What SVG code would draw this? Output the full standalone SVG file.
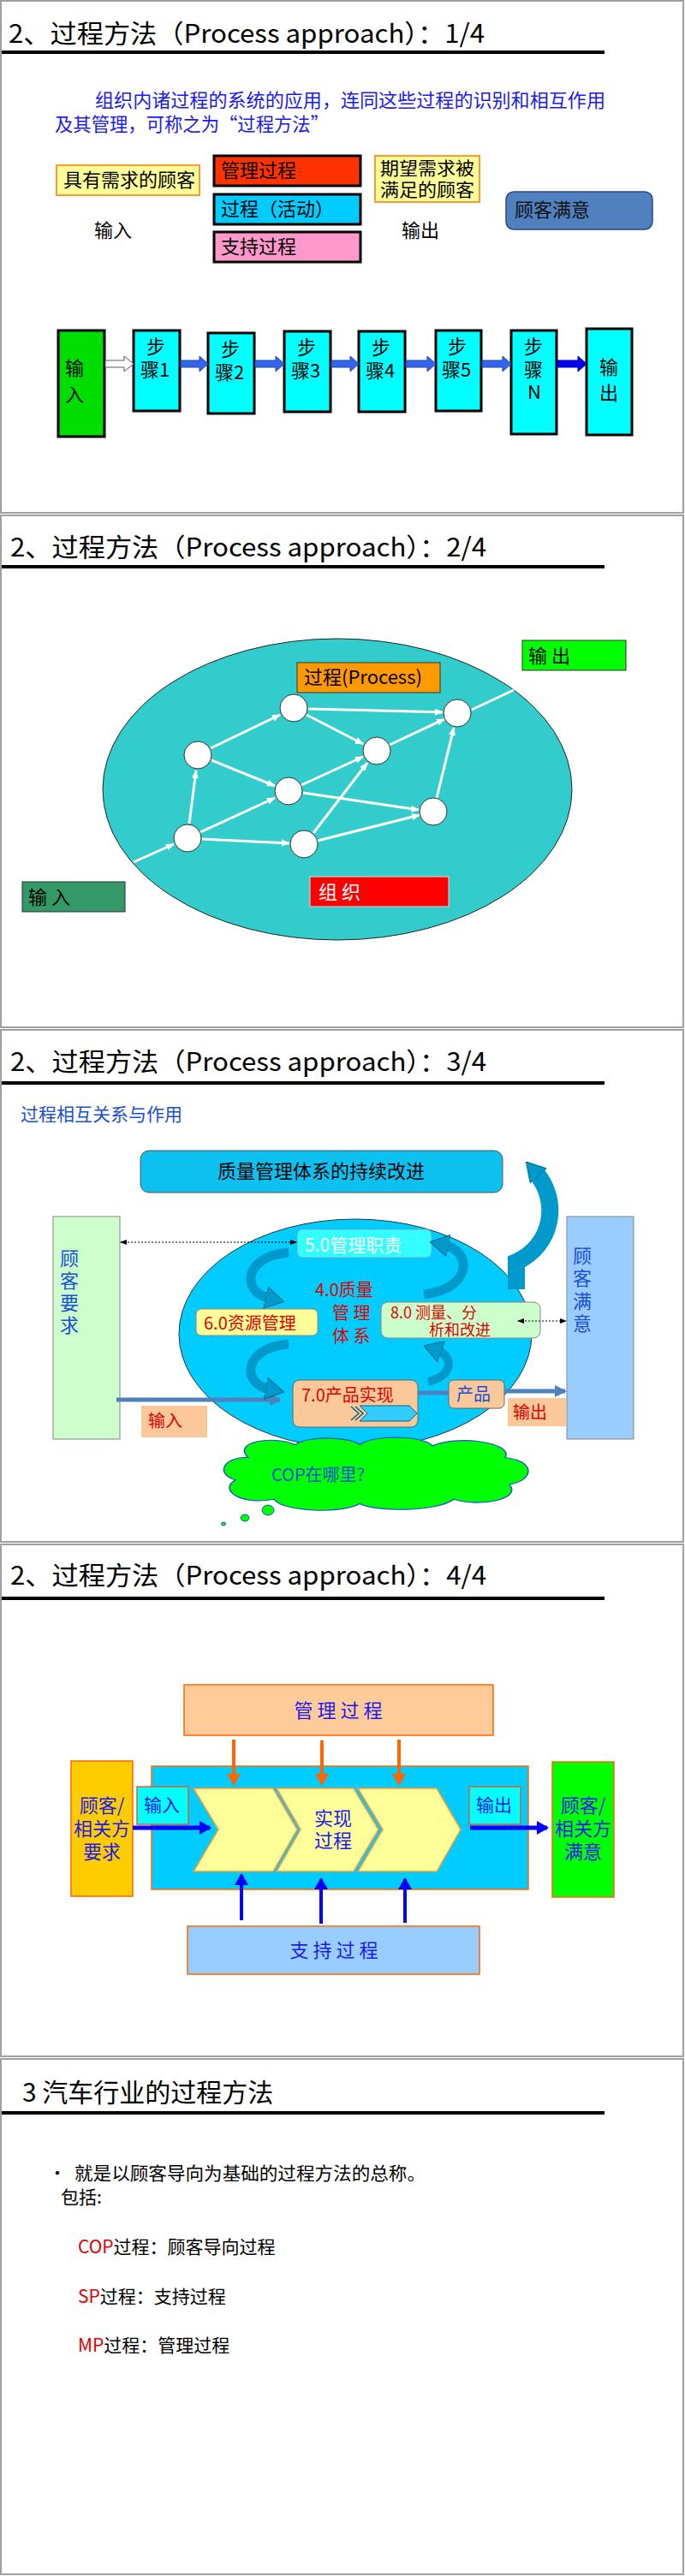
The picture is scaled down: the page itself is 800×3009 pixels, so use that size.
<svg xmlns="http://www.w3.org/2000/svg" width="800" height="3009" viewBox="0 0 800 3009">
<style>
text{font-family:"Noto Sans CJK SC","Noto Sans",sans-serif;}
.frame{fill:#fff;stroke:#a0a0a0;stroke-width:2}
.title{font-size:30px;fill:#000}
.ul{stroke:#000;stroke-width:4}
.bk{stroke:#000;stroke-width:3}
.step{fill:#00ffff;stroke:#000;stroke-width:3}
.t22{font-size:22px}
.wl{stroke:#fff;stroke-width:3;fill:none;marker-end:url(#wa)}
.node{fill:#fff;stroke:#333;stroke-width:1}
.tc{stroke:#0099cc;fill:none}
.red{fill:#e00000}
</style>
<defs>
<marker id="wa" markerWidth="10" markerHeight="10" refX="9" refY="5" orient="auto" markerUnits="userSpaceOnUse"><path d="M0,1 L10,5 L0,9 Z" fill="#fff"/></marker>
<marker id="ta" markerWidth="22" markerHeight="26" refX="6" refY="13" orient="auto" markerUnits="userSpaceOnUse"><path d="M0,0 L22,13 L0,26 Z" fill="#0099cc" stroke="#006688" stroke-width="1"/></marker>
<marker id="oa" markerWidth="14" markerHeight="16" refX="12" refY="8" orient="auto" markerUnits="userSpaceOnUse"><path d="M0,0 L14,8 L0,16 Z" fill="#ff6600"/></marker>
<marker id="ba" markerWidth="14" markerHeight="16" refX="12" refY="8" orient="auto" markerUnits="userSpaceOnUse"><path d="M0,0 L14,8 L0,16 Z" fill="#0000ff"/></marker>
<marker id="sa" markerWidth="14" markerHeight="14" refX="12" refY="7" orient="auto" markerUnits="userSpaceOnUse"><path d="M0,0 L14,7 L0,14 Z" fill="#4f81bd"/></marker>
<marker id="da" markerWidth="8" markerHeight="8" refX="7" refY="4" orient="auto" markerUnits="userSpaceOnUse"><path d="M0,1 L8,4 L0,7 Z" fill="#000"/></marker>
<marker id="ds" markerWidth="8" markerHeight="8" refX="1" refY="4" orient="auto" markerUnits="userSpaceOnUse"><path d="M8,1 L0,4 L8,7 Z" fill="#000"/></marker>
</defs>

<rect class="frame" x="1" y="1" width="797" height="598"/>
<rect class="frame" x="1" y="602" width="797" height="598"/>
<rect class="frame" x="1" y="1203" width="797" height="598"/>
<rect class="frame" x="1" y="1804" width="797" height="598"/>
<rect class="frame" x="1" y="2405" width="797" height="602"/>

<!-- Slide 1 -->
<g id="slide1">
<text class="title" x="10" y="50" textLength="556" lengthAdjust="spacingAndGlyphs">2、过程方法（Process approach）：1/4</text>
<line class="ul" x1="2" y1="61" x2="706" y2="61"/>
<text x="111" y="125" font-size="22" fill="#1a1aee" textLength="596" lengthAdjust="spacingAndGlyphs">组织内诸过程的系统的应用，连同这些过程的识别和相互作用</text>
<text x="64" y="153" font-size="22" fill="#1a1aee" textLength="320" lengthAdjust="spacingAndGlyphs">及其管理，可称之为“过程方法”</text>
<g id="n-customer"><rect x="66" y="193" width="167" height="35" fill="#ffff99" stroke="#ff9933" stroke-width="2"/><text x="74" y="218" class="t22">具有需求的顾客</text></g>
<g id="n-mgmt"><rect x="250" y="182" width="171" height="35" fill="#ff3300" class="bk"/><text x="258" y="207" class="t22">管理过程</text></g>
<g id="n-proc"><rect x="250" y="227" width="171" height="35" fill="#00ccff" class="bk"/><text x="258" y="252" class="t22">过程（活动）</text></g>
<g id="n-sup"><rect x="250" y="271" width="171" height="35" fill="#ff99cc" class="bk"/><text x="258" y="296" class="t22">支持过程</text></g>
<g id="n-expect"><rect x="438" y="182" width="122" height="54" fill="#ffff99" stroke="#ff9933" stroke-width="2"/><text x="444" y="204" font-size="21" textLength="110" lengthAdjust="spacingAndGlyphs">期望需求被</text><text x="444" y="229" font-size="21" textLength="110" lengthAdjust="spacingAndGlyphs">满足的顾客</text></g>
<g id="n-sat"><rect x="591" y="224" width="171" height="44" rx="9" fill="#5080c0" stroke="#2a4a80" stroke-width="1.5"/><text x="601" y="253" class="t22" fill="#111">顾客满意</text></g>
<text x="110" y="277" class="t22">输入</text>
<text x="469" y="277" class="t22">输出</text>
<g id="n-in"><rect x="68" y="386" width="54" height="124" fill="#00dd00" class="bk"/><text x="76" y="438" class="t22">输</text><text x="76" y="469" class="t22">入</text></g>
<g id="n-s1"><rect class="step" x="156" y="386" width="54" height="94"/><text x="171" y="413" class="t22">步</text><text x="164" y="440" class="t22">骤1</text></g>
<g id="n-s2"><rect class="step" x="243" y="389" width="54" height="94"/><text x="258" y="416" class="t22">步</text><text x="251" y="443" class="t22">骤2</text></g>
<g id="n-s3"><rect class="step" x="332" y="387" width="54" height="94"/><text x="347" y="414" class="t22">步</text><text x="340" y="441" class="t22">骤3</text></g>
<g id="n-s4"><rect class="step" x="419" y="387" width="54" height="94"/><text x="434" y="414" class="t22">步</text><text x="427" y="441" class="t22">骤4</text></g>
<g id="n-s5"><rect class="step" x="509" y="386" width="53" height="94"/><text x="523" y="413" class="t22">步</text><text x="516" y="440" class="t22">骤5</text></g>
<g id="n-sN"><rect class="step" x="597" y="386" width="53" height="121"/><text x="612" y="413" class="t22">步</text><text x="612" y="440" class="t22">骤</text><text x="616" y="466" class="t22">N</text></g>
<g id="n-out"><rect class="step" x="685" y="384" width="53" height="124"/><text x="700" y="437" class="t22">输</text><text x="700" y="467" class="t22">出</text></g>
</g>
<g id="connectors1">
<path d="M123,421 h22 v-5 l11,9 l-11,9 v-5 h-22 z" fill="#fff" stroke="#555" stroke-width="1"/>
<path d="M211,421 h22 v-5 l10,9 l-10,9 v-5 h-22 z" fill="#3366ee" stroke="#2244aa" stroke-width="1"/>
<path d="M298,421 h24 v-5 l10,9 l-10,9 v-5 h-24 z" fill="#3366ee" stroke="#2244aa" stroke-width="1"/>
<path d="M387,421 h22 v-5 l10,9 l-10,9 v-5 h-22 z" fill="#3366ee" stroke="#2244aa" stroke-width="1"/>
<path d="M474,421 h25 v-5 l10,9 l-10,9 v-5 h-25 z" fill="#3366ee" stroke="#2244aa" stroke-width="1"/>
<path d="M563,421 h24 v-5 l10,9 l-10,9 v-5 h-24 z" fill="#3366ee" stroke="#2244aa" stroke-width="1"/>
<path d="M651,421 h24 v-5 l10,9 l-10,9 v-5 h-24 z" fill="#0000ee" stroke="#0000aa" stroke-width="1"/>
</g>

<!-- Slide 2 -->
<g id="slide2">
<text class="title" x="12" y="650" textLength="556" lengthAdjust="spacingAndGlyphs">2、过程方法（Process approach）：2/4</text>
<line class="ul" x1="2" y1="662" x2="706" y2="662"/>
<ellipse cx="394" cy="922" rx="274" ry="176" fill="#33cccc" stroke="#222" stroke-width="1"/>
<g id="n2-out"><rect x="610" y="748" width="121" height="35" fill="#00ff00" stroke="#333"/><text x="617" y="774" class="t22">输 出</text></g>
<g id="n2-proc"><rect x="347" y="774" width="167" height="35" fill="#ff9900" stroke="#333"/><text x="355" y="799" class="t22">过程(Process)</text></g>
<g id="n2-org"><rect x="362" y="1024" width="162" height="35" fill="#ff0000" stroke="#ddd"/><text x="372" y="1050" class="t22" fill="#fff">组 织</text></g>
<g id="n2-in"><rect x="26" y="1030" width="120" height="35" fill="#339966" stroke="#333"/><text x="33" y="1056" class="t22">输 入</text></g>
</g>
<g id="connectors2">
<line class="wl" x1="156" y1="1007" x2="203" y2="986"/>
<line class="wl" x1="221" y1="962" x2="229" y2="900"/>
<line class="wl" x1="246" y1="874" x2="327" y2="835"/>
<line class="wl" x1="247" y1="888" x2="321" y2="918"/>
<line class="wl" x1="234" y1="972" x2="321" y2="932"/>
<line class="wl" x1="236" y1="980" x2="338" y2="985"/>
<line class="wl" x1="360" y1="828" x2="517" y2="832"/>
<line class="wl" x1="358" y1="835" x2="424" y2="869"/>
<line class="wl" x1="352" y1="917" x2="424" y2="884"/>
<line class="wl" x1="354" y1="926" x2="489" y2="946"/>
<line class="wl" x1="366" y1="973" x2="429" y2="891"/>
<line class="wl" x1="371" y1="982" x2="490" y2="952"/>
<line class="wl" x1="455" y1="870" x2="519" y2="840"/>
<line class="wl" x1="510" y1="932" x2="530" y2="850"/>
<line x1="551" y1="829" x2="600" y2="806" stroke="#fff" stroke-width="3"/>
</g>
<g id="nodes2">
<ellipse class="node" cx="219" cy="979" rx="16" ry="16"/>
<ellipse class="node" cx="231" cy="882" rx="16" ry="16"/>
<ellipse class="node" cx="343" cy="827" rx="16" ry="16"/>
<ellipse class="node" cx="337" cy="924" rx="16" ry="16"/>
<ellipse class="node" cx="355" cy="986" rx="16" ry="16"/>
<ellipse class="node" cx="440" cy="877" rx="16" ry="16"/>
<ellipse class="node" cx="534" cy="833" rx="16" ry="16"/>
<ellipse class="node" cx="506" cy="948" rx="16" ry="16"/>
</g>

<!-- Slide 3 -->
<g id="slide3">
<text class="title" x="12" y="1251" textLength="556" lengthAdjust="spacingAndGlyphs">2、过程方法（Process approach）：3/4</text>
<line class="ul" x1="2" y1="1265" x2="706" y2="1265"/>
<text x="24" y="1309" font-size="21" fill="#1a4fd8">过程相互关系与作用</text>
<g id="n3-top"><rect x="164" y="1344" width="423" height="49" rx="10" fill="#0cc0f0" stroke="#555"/><text x="375" y="1376" class="t22" text-anchor="middle">质量管理体系的持续改进</text></g>
<g id="n3-req"><rect x="62" y="1421" width="78" height="260" fill="#ccffcc" stroke="#888"/>
<text x="81" y="1478" font-size="22" fill="#1a4fd8" text-anchor="middle">顾</text><text x="81" y="1504" font-size="22" fill="#1a4fd8" text-anchor="middle">客</text><text x="81" y="1530" font-size="22" fill="#1a4fd8" text-anchor="middle">要</text><text x="81" y="1556" font-size="22" fill="#1a4fd8" text-anchor="middle">求</text></g>
<g id="n3-sat"><rect x="662" y="1421" width="78" height="260" fill="#99ccff" stroke="#888"/>
<text x="680" y="1475" font-size="22" fill="#1a4fd8" text-anchor="middle">顾</text><text x="680" y="1501" font-size="22" fill="#1a4fd8" text-anchor="middle">客</text><text x="680" y="1528" font-size="22" fill="#1a4fd8" text-anchor="middle">满</text><text x="680" y="1554" font-size="22" fill="#1a4fd8" text-anchor="middle">意</text></g>
<ellipse cx="415" cy="1558" rx="206" ry="134" fill="#00ccff" stroke="#333" stroke-width="1"/>
<g id="n3-50"><rect x="347" y="1436" width="157" height="33" rx="6" fill="#33ffff" stroke="#66aacc"/><text x="356" y="1462" font-size="21" fill="#fff">5.0管理职责</text></g>
<g id="n3-60"><rect x="229" y="1529" width="142" height="31" rx="6" fill="#ffff99" stroke="#888"/><text x="238" y="1553" font-size="20" class="red">6.0资源管理</text></g>
<g id="n3-40"><text x="368" y="1514" font-size="20" class="red">4.0质量</text><text x="388" y="1541" font-size="20" class="red">管  理</text><text x="388" y="1568" font-size="20" class="red">体  系</text></g>
<g id="n3-80"><rect x="445" y="1521" width="186" height="42" rx="8" fill="#ccffcc" stroke="#888"/><text x="456" y="1540" font-size="18" class="red">8.0  测量、分</text><text x="501" y="1560" font-size="18" class="red">析和改进</text></g>
<g id="n3-70"><rect x="342" y="1612" width="146" height="55" rx="8" fill="#fbc89a" stroke="#666"/><text x="352" y="1637" font-size="20" class="red">7.0产品实现</text>
<path d="M420,1642 h58 l9,9 l-9,9 h-58 l9,-9 z" fill="#33ccff" stroke="#006688"/><path d="M410,1643 l9,8 l-9,8 M415,1643 l9,8 l-9,8" stroke="#006688" fill="none" stroke-width="1.5"/></g>
<g id="n3-prod"><rect x="524" y="1612" width="65" height="33" rx="6" fill="#fbc89a" stroke="#666"/><text x="533" y="1636" font-size="20" fill="#1a4fd8">产品</text></g>
<g id="n3-in"><rect x="165" y="1642" width="77" height="37" fill="#fbc89a"/><text x="173" y="1667" font-size="20" class="red">输入</text></g>
<g id="n3-out"><rect x="593" y="1633" width="68" height="33" fill="#fbc89a"/><text x="599" y="1657" font-size="20" class="red">输出</text></g>
<g id="n3-cloud">
<path transform="translate(0,1200) scale(1,0.75) translate(0,-1200)" d="M290,1870 C270,1845 320,1835 345,1850 C360,1835 410,1838 420,1850 C440,1832 500,1838 505,1852 C530,1835 600,1845 590,1870 C625,1875 625,1905 595,1912 C610,1935 560,1948 530,1935 C510,1955 440,1955 420,1942 C400,1958 330,1955 320,1935 C280,1945 255,1920 275,1905 C250,1895 262,1868 290,1870 Z" fill="#00ff00" stroke="#1a4fd8" stroke-width="1.5"/>
<text x="317" y="1730" font-size="20" fill="#1a4fd8">COP在哪里?</text>
<ellipse cx="313" cy="1764" rx="7" ry="6" fill="#00ff00" stroke="#1a4fd8"/>
<ellipse cx="286" cy="1773" rx="5" ry="4" fill="#00ff00" stroke="#1a4fd8"/>
<ellipse cx="261" cy="1780" rx="2.5" ry="2" fill="#00ff00" stroke="#1a4fd8"/>
</g>
</g>
<g id="connectors3">
<line x1="141" y1="1451" x2="346" y2="1451" stroke="#000" stroke-width="1" stroke-dasharray="2,2" marker-start="url(#ds)" marker-end="url(#da)"/>
<line x1="605" y1="1543" x2="661" y2="1543" stroke="#000" stroke-width="1" stroke-dasharray="2,2" marker-start="url(#ds)" marker-end="url(#da)"/>
<line x1="136" y1="1635" x2="327" y2="1635" stroke="#4f81bd" stroke-width="5" marker-end="url(#sa)"/>
<line x1="488" y1="1627" x2="524" y2="1627" stroke="#4f81bd" stroke-width="5"/>
<line x1="590" y1="1625" x2="660" y2="1625" stroke="#4f81bd" stroke-width="5" marker-end="url(#sa)"/>
<path class="tc" d="M337,1463 C285,1467 280,1509 316,1517" stroke-width="11" marker-end="url(#ta)"/>
<path class="tc" d="M337,1570 C285,1574 280,1616 316,1623" stroke-width="11" marker-end="url(#ta)"/>
<path class="tc" d="M495,1512 C552,1505 552,1461 518,1454" stroke-width="11" marker-end="url(#ta)"/>
<path class="tc" d="M500,1614 C530,1607 530,1584 510,1577" stroke-width="10" marker-end="url(#ta)"/>
<path class="tc" d="M603,1506 L603,1474 C645,1455 655,1403 625,1369" stroke-width="20" marker-end="url(#ta)"/>
</g>

<!-- Slide 4 -->
<g id="slide4">
<text class="title" x="12" y="1851" textLength="556" lengthAdjust="spacingAndGlyphs">2、过程方法（Process approach）：4/4</text>
<line class="ul" x1="2" y1="1867" x2="706" y2="1867"/>
<g id="n4-mgmt"><rect x="215" y="1968" width="361" height="59" fill="#ffcc99" stroke="#ff6600" stroke-width="1.5"/><text x="395" y="2006" font-size="22" fill="#1a1aee" text-anchor="middle">管  理  过  程</text></g>
<rect x="177" y="2063" width="440" height="144" fill="#00ccff" stroke="#ff6600" stroke-width="1.5"/>
<g id="n4-req"><rect x="83" y="2057" width="72" height="158" fill="#ffcc00" stroke="#ff6600" stroke-width="1.5"/>
<text x="119" y="2117" font-size="22" fill="#1a1aee" text-anchor="middle">顾客/</text><text x="119" y="2144" font-size="22" fill="#1a1aee" text-anchor="middle">相关方</text><text x="119" y="2171" font-size="22" fill="#1a1aee" text-anchor="middle">要求</text></g>
<g id="n4-sat"><rect x="645" y="2058" width="72" height="158" fill="#00ff00" stroke="#ff6600" stroke-width="1.5"/>
<text x="681" y="2117" font-size="22" fill="#1a1aee" text-anchor="middle">顾客/</text><text x="681" y="2144" font-size="22" fill="#1a1aee" text-anchor="middle">相关方</text><text x="681" y="2171" font-size="22" fill="#1a1aee" text-anchor="middle">满意</text></g>
<g id="n4-in"><rect x="160" y="2087" width="60" height="44" fill="#00ffff" stroke="#cc6633" stroke-width="1.5"/><text x="168" y="2116" font-size="21" fill="#1a1aee">输入</text></g>
<g id="n4-out"><rect x="548" y="2087" width="60" height="44" fill="#00ffff" stroke="#cc6633" stroke-width="1.5"/><text x="556" y="2116" font-size="21" fill="#1a1aee">输出</text></g>
<g id="n4-real">
<polygon points="226,2089 319,2089 347,2137 319,2186 226,2186 255,2137" fill="#ffff99" stroke="#ff9933" stroke-width="1.5"/>
<polygon points="323,2089 413,2089 442,2137 413,2186 323,2186 351,2137" fill="#ffff99" stroke="#ff9933" stroke-width="1.5"/>
<polygon points="418,2089 510,2089 538,2137 510,2186 418,2186 447,2137" fill="#ffff99" stroke="#ff9933" stroke-width="1.5"/>
<text x="389" y="2132" font-size="22" fill="#1a1aee" text-anchor="middle">实现</text><text x="389" y="2158" font-size="22" fill="#1a1aee" text-anchor="middle">过程</text></g>
<g id="n4-sup"><rect x="219" y="2250" width="341" height="56" fill="#99ccff" stroke="#ff6600" stroke-width="1.5"/><text x="390" y="2286" font-size="22" fill="#1a1aee" text-anchor="middle">支  持  过  程</text></g>
</g>
<g id="connectors4">
<line x1="273" y1="2032" x2="273" y2="2084" stroke="#ff6600" stroke-width="4" marker-end="url(#oa)"/>
<line x1="376" y1="2033" x2="376" y2="2084" stroke="#ff6600" stroke-width="4" marker-end="url(#oa)"/>
<line x1="466" y1="2032" x2="466" y2="2084" stroke="#ff6600" stroke-width="4" marker-end="url(#oa)"/>
<line x1="282" y1="2243" x2="282" y2="2190" stroke="#0000ff" stroke-width="4" marker-end="url(#ba)"/>
<line x1="375" y1="2247" x2="375" y2="2195" stroke="#0000ff" stroke-width="4" marker-end="url(#ba)"/>
<line x1="473" y1="2246" x2="473" y2="2195" stroke="#0000ff" stroke-width="4" marker-end="url(#ba)"/>
<line x1="155" y1="2135" x2="245" y2="2135" stroke="#0000ff" stroke-width="5" marker-end="url(#ba)"/>
<line x1="549" y1="2135" x2="639" y2="2135" stroke="#0000ff" stroke-width="5" marker-end="url(#ba)"/>
</g>

<!-- Slide 5 -->
<g id="slide5">
<text x="26" y="2455" font-size="30" fill="#000">3  汽车行业的过程方法</text>
<line class="ul" x1="2" y1="2468" x2="706" y2="2468"/>
<text x="57" y="2546" font-size="20">•</text>
<text x="87" y="2546" font-size="21" textLength="410" lengthAdjust="spacingAndGlyphs">就是以顾客导向为基础的过程方法的总称。</text>
<text x="71" y="2574" font-size="21">包括:</text>
<text x="91" y="2632" font-size="21"><tspan fill="#e00000">COP</tspan>过程：顾客导向过程</text>
<text x="91" y="2690" font-size="21"><tspan fill="#e00000">SP</tspan>过程：支持过程</text>
<text x="91" y="2747" font-size="21"><tspan fill="#e00000">MP</tspan>过程：管理过程</text>
</g>
</svg>
